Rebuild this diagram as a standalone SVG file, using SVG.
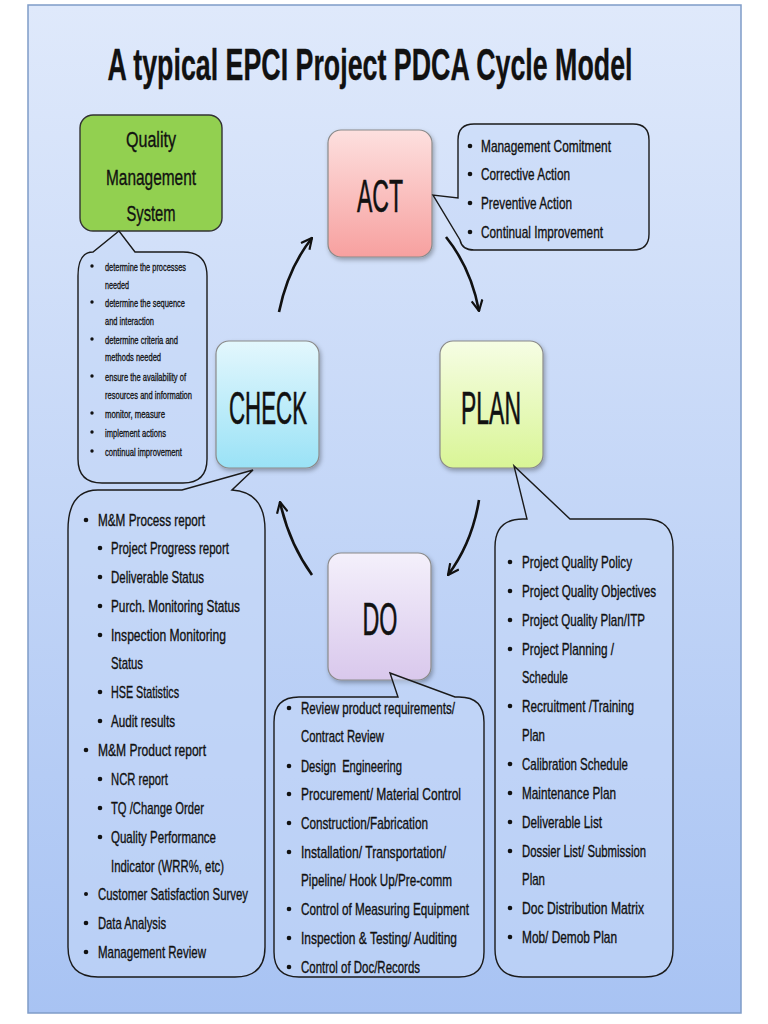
<svg xmlns="http://www.w3.org/2000/svg" width="768" height="1024" viewBox="0 0 768 1024">
<defs>
<linearGradient id="bg" x1="0" y1="0" x2="0" y2="1"><stop offset="0" stop-color="#dfe9fb"/><stop offset="1" stop-color="#a8c3f3"/></linearGradient>
<linearGradient id="gAct" x1="0" y1="0" x2="0" y2="1"><stop offset="0" stop-color="#fde0df"/><stop offset="1" stop-color="#f7a09f"/></linearGradient>
<linearGradient id="gCheck" x1="0" y1="0" x2="0" y2="1"><stop offset="0" stop-color="#e3f7fd"/><stop offset="1" stop-color="#9ae2f6"/></linearGradient>
<linearGradient id="gPlan" x1="0" y1="0" x2="0" y2="1"><stop offset="0" stop-color="#f6fde4"/><stop offset="1" stop-color="#d9f596"/></linearGradient>
<linearGradient id="gDo" x1="0" y1="0" x2="0" y2="1"><stop offset="0" stop-color="#f4f0fb"/><stop offset="1" stop-color="#d9c8ec"/></linearGradient>
<filter id="sh" x="-10%" y="-10%" width="130%" height="130%"><feDropShadow dx="1.5" dy="2.5" stdDeviation="2" flood-color="#000" flood-opacity="0.3"/></filter>
<marker id="ah" viewBox="0 0 12 12" refX="11" refY="6" markerWidth="13" markerHeight="13" markerUnits="userSpaceOnUse" orient="auto"><path d="M1,1 L11,6 L1,11" fill="none" stroke="#111" stroke-width="2"/></marker>
<style>
.t{font-family:"Liberation Sans Narrow","Liberation Sans",Arial,sans-serif;fill:#111;stroke:#111;stroke-width:0.35}
.b{font-size:17px}
.s{font-size:11px;stroke-width:0.3}
.big{font-size:46px;text-anchor:middle;stroke-width:0.6}
.q{font-size:22px;text-anchor:middle}
.call{fill:#c6d8f7;fill-opacity:0.55;stroke:#1a1a1a;stroke-width:1.4}
.node{stroke:#8a8a8a;stroke-width:1.2}
.arr{fill:none;stroke:#111;stroke-width:2.6;marker-end:url(#ah)}
.dot{fill:#111}
</style>
</defs>
<rect x="0" y="0" width="768" height="1024" fill="#ffffff"/>
<rect x="28" y="5" width="713" height="1008" fill="url(#bg)" stroke="#7f9cc8" stroke-width="1.5"/>
<text class="t" x="370" y="80" font-size="44" font-weight="bold" text-anchor="middle" textLength="525" lengthAdjust="spacingAndGlyphs">A typical EPCI Project PDCA Cycle Model</text>

<g id="connectors">
<path class="arr" d="M279,312 Q288,268 312,238"/>
<path class="arr" d="M446,237 Q471,268 479,311"/>
<path class="arr" d="M479,500 Q472,543 448,575"/>
<path class="arr" d="M312,575 Q289,543 280,502"/>
</g>

<g id="qms">
<rect x="80" y="115" width="142" height="116" rx="13" fill="#92d050" stroke="#333" stroke-width="1.4"/>
<text class="t q" x="151" y="147" textLength="50" lengthAdjust="spacingAndGlyphs">Quality</text>
<text class="t q" x="151" y="185" textLength="90" lengthAdjust="spacingAndGlyphs">Management</text>
<text class="t q" x="151" y="221" textLength="49" lengthAdjust="spacingAndGlyphs">System</text>
</g>

<g id="qms-callout">
<path class="call" d="M78,276 Q78,252 93,252 L119,231 L135,252 L183,252 Q207,252 207,276 L207,459 Q207,483 183,483 L102,483 Q78,483 78,459 Z"/>
<g class="dot">
<circle cx="92" cy="266" r="1.7"/><circle cx="92" cy="302" r="1.7"/><circle cx="92" cy="339" r="1.7"/><circle cx="92" cy="376" r="1.7"/><circle cx="92" cy="413" r="1.7"/><circle cx="92" cy="432" r="1.7"/><circle cx="92" cy="451" r="1.7"/>
</g>
<text class="t s" x="105" y="271" textLength="81" lengthAdjust="spacingAndGlyphs">determine the processes</text>
<text class="t s" x="105" y="289" textLength="24" lengthAdjust="spacingAndGlyphs">needed</text>
<text class="t s" x="105" y="307" textLength="80" lengthAdjust="spacingAndGlyphs">determine the sequence</text>
<text class="t s" x="105" y="325" textLength="49" lengthAdjust="spacingAndGlyphs">and interaction</text>
<text class="t s" x="105" y="344" textLength="73" lengthAdjust="spacingAndGlyphs">determine criteria and</text>
<text class="t s" x="105" y="361" textLength="56" lengthAdjust="spacingAndGlyphs">methods needed</text>
<text class="t s" x="105" y="381" textLength="81" lengthAdjust="spacingAndGlyphs">ensure the availability of</text>
<text class="t s" x="105" y="399" textLength="87" lengthAdjust="spacingAndGlyphs">resources and information</text>
<text class="t s" x="105" y="418" textLength="60" lengthAdjust="spacingAndGlyphs">monitor, measure</text>
<text class="t s" x="105" y="437" textLength="61" lengthAdjust="spacingAndGlyphs">implement actions</text>
<text class="t s" x="105" y="456" textLength="77" lengthAdjust="spacingAndGlyphs">continual improvement</text>
</g>

<g id="act">
<rect class="node" x="328" y="130" width="104" height="127" rx="13" fill="url(#gAct)" filter="url(#sh)"/>
<text class="t big" x="380" y="212" textLength="46" lengthAdjust="spacingAndGlyphs">ACT</text>
</g>
<g id="act-callout">
<path class="call" d="M474,124 L633,124 Q649,124 649,140 L649,234 Q649,250 633,250 L474,250 Q462,250 460,240 L433,195 L458,198 L458,140 Q458,124 474,124 Z"/>
<g class="dot"><circle cx="470" cy="146" r="2.3"/><circle cx="470" cy="174" r="2.3"/><circle cx="470" cy="203" r="2.3"/><circle cx="470" cy="232" r="2.3"/></g>
<text class="t b" x="481" y="152" textLength="130" lengthAdjust="spacingAndGlyphs">Management Comitment</text>
<text class="t b" x="481" y="180" textLength="89" lengthAdjust="spacingAndGlyphs">Corrective Action</text>
<text class="t b" x="481" y="209" textLength="91" lengthAdjust="spacingAndGlyphs">Preventive Action</text>
<text class="t b" x="481" y="238" textLength="122" lengthAdjust="spacingAndGlyphs">Continual Improvement</text>
</g>

<g id="check">
<rect class="node" x="216" y="341" width="103" height="127" rx="13" fill="url(#gCheck)" filter="url(#sh)"/>
<text class="t big" x="268" y="424" textLength="78" lengthAdjust="spacingAndGlyphs">CHECK</text>
</g>
<g id="plan">
<rect class="node" x="440" y="341" width="103" height="127" rx="13" fill="url(#gPlan)" filter="url(#sh)"/>
<text class="t big" x="491" y="424" textLength="60" lengthAdjust="spacingAndGlyphs">PLAN</text>
</g>
<g id="do">
<rect class="node" x="328" y="553" width="103" height="127" rx="13" fill="url(#gDo)" filter="url(#sh)"/>
<text class="t big" x="380" y="635" textLength="35" lengthAdjust="spacingAndGlyphs">DO</text>
</g>

<g id="check-callout">
<path class="call" d="M98,490 L182,490 L253,470 L232,490 Q265,492 265,530 L265,947 Q265,977 235,977 L98,977 Q68,977 68,947 L68,530 Q68,490 98,490 Z"/>
<g class="dot">
<circle cx="86" cy="520" r="2.3"/><circle cx="100" cy="548" r="2.3"/><circle cx="100" cy="577" r="2.3"/><circle cx="100" cy="606" r="2.3"/><circle cx="100" cy="635" r="2.3"/><circle cx="100" cy="692" r="2.3"/><circle cx="100" cy="721" r="2.3"/><circle cx="86" cy="750" r="2.3"/><circle cx="100" cy="779" r="2.3"/><circle cx="100" cy="808" r="2.3"/><circle cx="100" cy="837" r="2.3"/><circle cx="86" cy="894" r="2"/><circle cx="86" cy="923" r="2.3"/><circle cx="86" cy="952" r="2.3"/>
</g>
<text class="t b" x="98" y="526" textLength="107" lengthAdjust="spacingAndGlyphs">M&amp;M Process report</text>
<text class="t b" x="111" y="554" textLength="118" lengthAdjust="spacingAndGlyphs">Project Progress report</text>
<text class="t b" x="111" y="583" textLength="93" lengthAdjust="spacingAndGlyphs">Deliverable Status</text>
<text class="t b" x="111" y="612" textLength="129" lengthAdjust="spacingAndGlyphs">Purch. Monitoring Status</text>
<text class="t b" x="111" y="641" textLength="115" lengthAdjust="spacingAndGlyphs">Inspection Monitoring</text>
<text class="t b" x="111" y="669" textLength="32" lengthAdjust="spacingAndGlyphs">Status</text>
<text class="t b" x="111" y="698" textLength="68" lengthAdjust="spacingAndGlyphs">HSE Statistics</text>
<text class="t b" x="111" y="727" textLength="64" lengthAdjust="spacingAndGlyphs">Audit results</text>
<text class="t b" x="98" y="756" textLength="108" lengthAdjust="spacingAndGlyphs">M&amp;M Product report</text>
<text class="t b" x="111" y="785" textLength="57" lengthAdjust="spacingAndGlyphs">NCR report</text>
<text class="t b" x="111" y="814" textLength="93" lengthAdjust="spacingAndGlyphs">TQ /Change Order</text>
<text class="t b" x="111" y="843" textLength="105" lengthAdjust="spacingAndGlyphs">Quality Performance</text>
<text class="t b" x="111" y="872" textLength="113" lengthAdjust="spacingAndGlyphs">Indicator (WRR%, etc)</text>
<text class="t" font-size="16" x="98" y="900" textLength="150" lengthAdjust="spacingAndGlyphs">Customer Satisfaction Survey</text>
<text class="t b" x="98" y="929" textLength="68" lengthAdjust="spacingAndGlyphs">Data Analysis</text>
<text class="t b" x="98" y="958" textLength="108" lengthAdjust="spacingAndGlyphs">Management Review</text>
</g>

<g id="do-callout">
<path class="call" d="M299,697 L398,697 L390,673 L455,697 L459,697 Q484,697 484,722 L484,952 Q484,977 459,977 L299,977 Q274,977 274,952 L274,722 Q274,697 299,697 Z"/>
<g class="dot">
<circle cx="289" cy="708" r="2.3"/><circle cx="289" cy="766" r="2.3"/><circle cx="289" cy="794" r="2.3"/><circle cx="289" cy="823" r="2.3"/><circle cx="289" cy="852" r="2.3"/><circle cx="289" cy="909" r="2.3"/><circle cx="289" cy="938" r="2.3"/><circle cx="289" cy="967" r="2.3"/>
</g>
<text class="t b" x="301" y="714" textLength="154" lengthAdjust="spacingAndGlyphs">Review product requirements/</text>
<text class="t b" x="301" y="742" textLength="83" lengthAdjust="spacingAndGlyphs">Contract Review</text>
<text class="t b" x="301" y="772" textLength="101" lengthAdjust="spacingAndGlyphs" xml:space="preserve">Design  Engineering</text>
<text class="t b" x="301" y="800" textLength="160" lengthAdjust="spacingAndGlyphs">Procurement/ Material Control</text>
<text class="t b" x="301" y="829" textLength="127" lengthAdjust="spacingAndGlyphs">Construction/Fabrication</text>
<text class="t b" x="301" y="858" textLength="145" lengthAdjust="spacingAndGlyphs">Installation/ Transportation/</text>
<text class="t b" x="301" y="886" textLength="151" lengthAdjust="spacingAndGlyphs">Pipeline/ Hook Up/Pre-comm</text>
<text class="t b" x="301" y="915" textLength="168" lengthAdjust="spacingAndGlyphs">Control of Measuring Equipment</text>
<text class="t b" x="301" y="944" textLength="156" lengthAdjust="spacingAndGlyphs">Inspection &amp; Testing/ Auditing</text>
<text class="t b" x="301" y="973" textLength="119" lengthAdjust="spacingAndGlyphs">Control of Doc/Records</text>
</g>

<g id="plan-callout">
<path class="call" d="M523,519 L527,519 L514,466 L570,519 L645,519 Q673,519 673,547 L673,949 Q673,977 645,977 L523,977 Q495,977 495,949 L495,547 Q495,519 523,519 Z"/>
<g class="dot">
<circle cx="510" cy="562" r="2.3"/><circle cx="510" cy="591" r="2.3"/><circle cx="510" cy="620" r="2.3"/><circle cx="510" cy="649" r="2.3"/><circle cx="510" cy="706" r="2.3"/><circle cx="510" cy="764" r="2.3"/><circle cx="510" cy="793" r="2.3"/><circle cx="510" cy="822" r="2.3"/><circle cx="510" cy="851" r="2.3"/><circle cx="510" cy="908" r="2.3"/><circle cx="510" cy="937" r="2.3"/>
</g>
<text class="t b" x="522" y="568" textLength="110" lengthAdjust="spacingAndGlyphs">Project Quality Policy</text>
<text class="t b" x="522" y="597" textLength="134" lengthAdjust="spacingAndGlyphs">Project Quality Objectives</text>
<text class="t b" x="522" y="626" textLength="123" lengthAdjust="spacingAndGlyphs">Project Quality Plan/ITP</text>
<text class="t b" x="522" y="655" textLength="92" lengthAdjust="spacingAndGlyphs">Project Planning /</text>
<text class="t b" x="522" y="683" textLength="46" lengthAdjust="spacingAndGlyphs">Schedule</text>
<text class="t b" x="522" y="712" textLength="112" lengthAdjust="spacingAndGlyphs">Recruitment /Training</text>
<text class="t b" x="522" y="741" textLength="23" lengthAdjust="spacingAndGlyphs">Plan</text>
<text class="t b" x="522" y="770" textLength="106" lengthAdjust="spacingAndGlyphs">Calibration Schedule</text>
<text class="t b" x="522" y="799" textLength="94" lengthAdjust="spacingAndGlyphs">Maintenance Plan</text>
<text class="t b" x="522" y="828" textLength="80" lengthAdjust="spacingAndGlyphs">Deliverable List</text>
<text class="t b" x="522" y="857" textLength="124" lengthAdjust="spacingAndGlyphs">Dossier List/ Submission</text>
<text class="t b" x="522" y="885" textLength="23" lengthAdjust="spacingAndGlyphs">Plan</text>
<text class="t b" x="522" y="914" textLength="122" lengthAdjust="spacingAndGlyphs">Doc Distribution Matrix</text>
<text class="t b" x="522" y="943" textLength="95" lengthAdjust="spacingAndGlyphs">Mob/ Demob Plan</text>
</g>
</svg>
